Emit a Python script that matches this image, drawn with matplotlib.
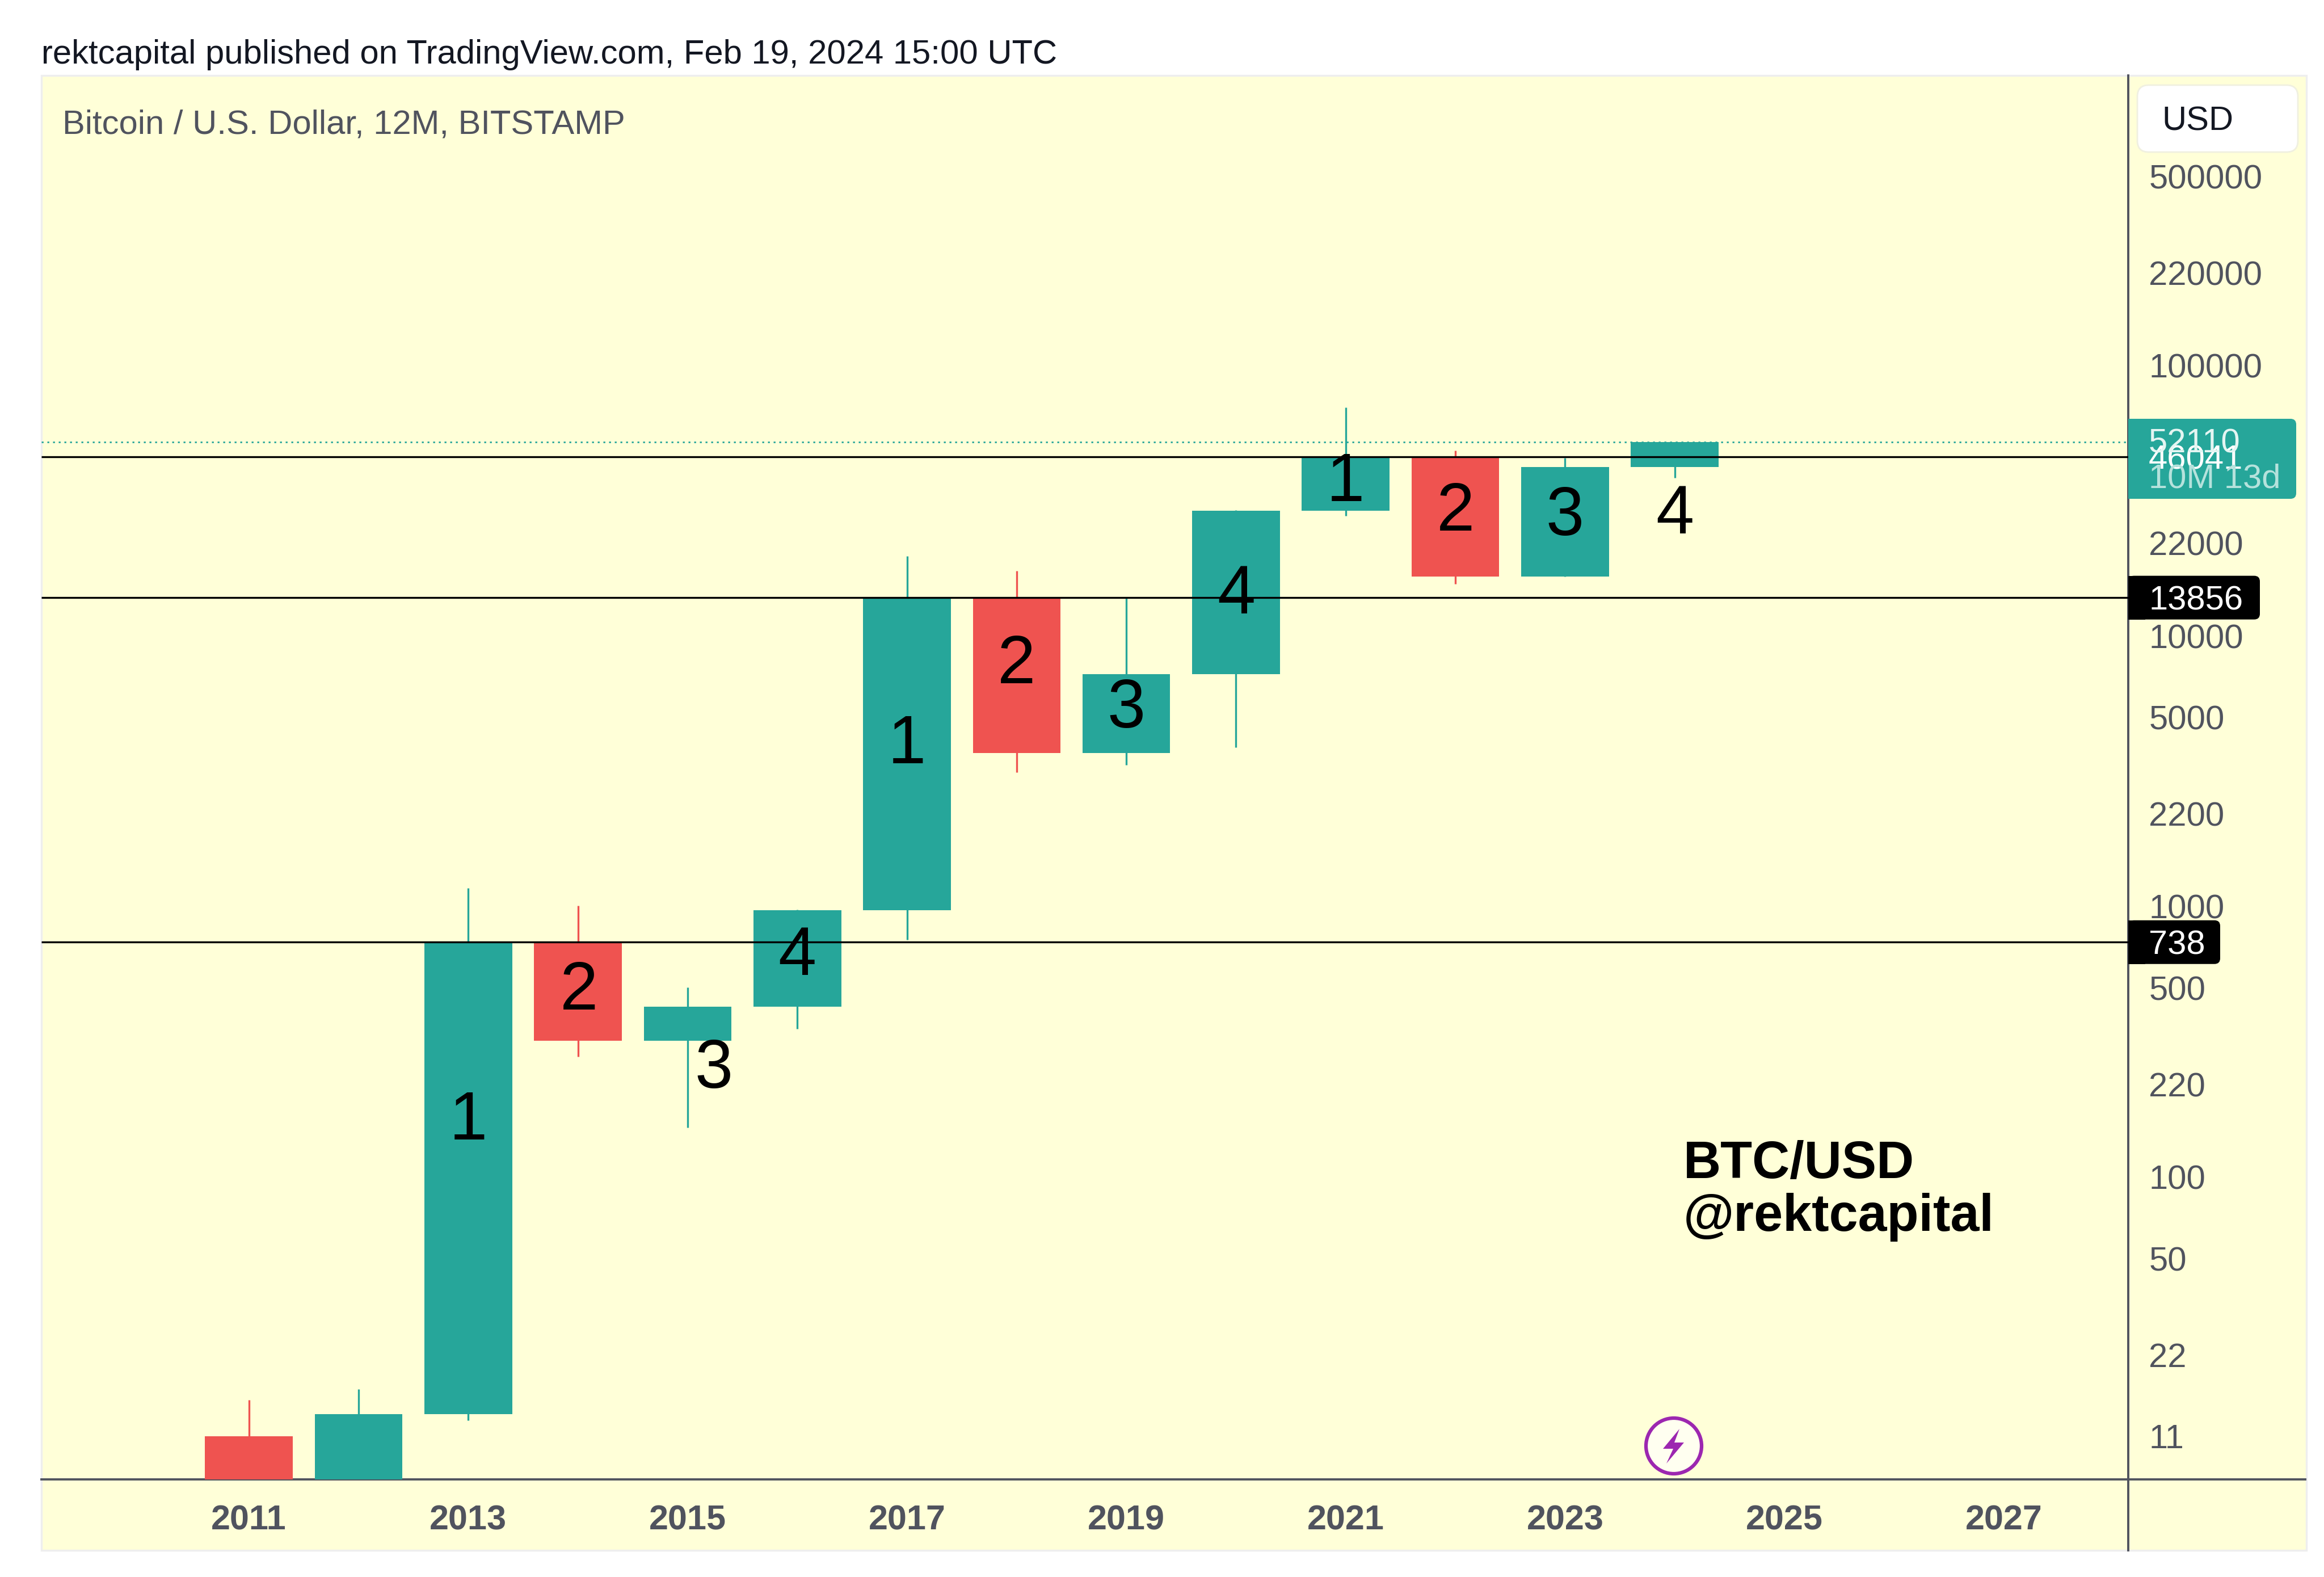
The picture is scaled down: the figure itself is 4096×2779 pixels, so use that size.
import matplotlib
matplotlib.use('Agg')
import matplotlib.pyplot as plt
from matplotlib.lines import Line2D
from matplotlib.patches import Circle, FancyBboxPatch, Polygon, Rectangle
from matplotlib.ticker import FixedLocator, NullLocator
from matplotlib.transforms import IdentityTransform

plt.rcParams['font.family'] = ['Liberation Sans', 'DejaVu Sans']

# yearly candles
years = [2011, 2012, 2013, 2014, 2015, 2016, 2017, 2018, 2019, 2020, 2021, 2022, 2023, 2024]
opens = [11, 4.7, 13.3, 738, 319, 427, 968, 13856, 3690, 7210, 29000, 46041, 16560, 42170]
closes = [4.7, 13.3, 738, 319, 427, 968, 13856, 3690, 7210, 29000, 46041, 16560, 42170, 52110]
highs = [15, 16.4, 1170, 1007, 502, 975, 19760, 17400, 13880, 29200, 69800, 48400, 45500, 52110]
lows = [2, 4, 12.6, 278, 152, 353, 753, 3135, 3335, 3880, 27800, 15560, 16560, 38500]

levels = [46041, 13856, 738]
last_price = 52110

count_labels = ['1', '2', '3', '4', '1', '2', '3', '4', '1', '2', '3', '4']
count_x = [2013, 2014.01, 2015.24, 2016, 2017, 2018, 2019, 2020, 2021, 2022, 2023, 2024]
count_y = [160, 484, 248, 648, 3934, 7766, 5322, 14060, 36680, 28500, 27400, 27790]

price_ticks = [500000, 220000, 100000, 50000, 22000, 10000, 5000, 2200, 1000, 500, 220, 100, 50, 22, 11]
year_ticks = [2011, 2013, 2015, 2017, 2019, 2021, 2023, 2025, 2027]

# colours
fondo = '#FFFFD8'
verde = '#26A69A'
rojo = '#EF5350'
gris = '#50535E'

W, H = 4096, 2779
fig = plt.figure(figsize=(W / 100, H / 100), dpi=100, facecolor='white')
pix = IdentityTransform()

# pixel positions of the panel, measured from the top
left, right, top, bottom, panel_r, panel_b = 73, 3751, 133, 2607, 4065, 2732

fig.add_artist(Rectangle((left, H - panel_b), panel_r - left, panel_b - top, transform=pix,
                         facecolor=fondo, edgecolor='#EEEEEE', linewidth=2.5, zorder=-1))

ax = fig.add_axes([left / W, 1 - bottom / H, (right - left) / W, (bottom - top) / H])
ax.patch.set_alpha(0)
ax.set_yscale('log')
ax.set_xlim(2009.108, 2028.135)
ax.set_ylim(7.62, 1.18e6)

for s in ['top', 'left']:
    ax.spines[s].set_visible(False)
for s in ['bottom', 'right']:
    ax.spines[s].set_color(gris)
    ax.spines[s].set_linewidth(2.8)

# wicks and bodies
colores = [verde if c >= o else rojo for o, c in zip(opens, closes)]
ax.vlines(years, lows, highs, colors=colores, linewidth=2.4, zorder=2)
cuerpo_inf = [min(o, c) for o, c in zip(opens, closes)]
cuerpo_alto = [abs(c - o) for o, c in zip(opens, closes)]
ax.bar(years, cuerpo_alto, bottom=cuerpo_inf, width=0.8, color=colores, linewidth=0, zorder=3)

ax.hlines(levels, 2009.108, 2028.135, colors='black', linewidth=2.4, zorder=4)
ax.hlines(last_price, 2009.108, 2028.135, colors=verde, linewidth=2, linestyles=(0, (1.2, 2.4)), zorder=1)

for t, xx, yy in zip(count_labels, count_x, count_y):
    ax.text(xx, yy, t, fontsize=87, color='black', ha='center', va='center', zorder=6)

ax.yaxis.tick_right()
ax.yaxis.set_major_locator(FixedLocator(price_ticks))
ax.yaxis.set_minor_locator(NullLocator())
ax.set_yticklabels([str(p) for p in price_ticks])
ax.tick_params(axis='y', length=0, pad=26, labelsize=43, labelcolor=gris)
ax.set_xticks(year_ticks)
ax.set_xticklabels([str(y) for y in year_ticks], fontweight='bold')
ax.tick_params(axis='x', length=0, pad=32, labelsize=44, labelcolor=gris)

# pieces of the axis lines that run past the plot area
fig.add_artist(Line2D([right, right], [H - bottom, H - panel_b], transform=pix, color=gris, linewidth=2.8, zorder=1))
fig.add_artist(Line2D([right, panel_r - 2], [H - bottom, H - bottom], transform=pix, color=gris, linewidth=2.8, zorder=1))


def etiqueta(valor, ancho, alto, color):
    # price tag on the right axis, centred on a value
    yc = ax.transData.transform((2020, valor))[1]
    fig.add_artist(FancyBboxPatch((right, yc - alto / 2), ancho, alto, transform=pix,
                                  boxstyle='round,pad=0,rounding_size=10', facecolor=color,
                                  edgecolor='none', zorder=2))
    fig.add_artist(Rectangle((right, yc - alto / 2), 30, alto, transform=pix, facecolor=color,
                             edgecolor='none', zorder=2))
    return yc


yc = etiqueta(46041, 232, 77, 'black')
fig.text(3787 / W, yc / H, '46041', color='white', fontsize=43, va='center_baseline', zorder=3)
yc = etiqueta(13856, 232, 77, 'black')
fig.text(3787 / W, yc / H, '13856', color='white', fontsize=43, va='center_baseline', zorder=3)
yc = etiqueta(738, 162, 77, 'black')
fig.text(3787 / W, yc / H, '738', color='white', fontsize=43, va='center_baseline', zorder=3)

fig.add_artist(FancyBboxPatch((right, H - 879), 296, 141, transform=pix, boxstyle='round,pad=0,rounding_size=10',
                              facecolor=verde, edgecolor='none', zorder=2))
fig.add_artist(Rectangle((right, H - 879), 30, 141, transform=pix, facecolor=verde, edgecolor='none', zorder=2))
fig.text(3787 / W, 1 - 776 / H, '52110', color='#E4F5F2', fontsize=43, va='center_baseline', zorder=3)
fig.text(3787 / W, 1 - 838 / H, '10M 13d', color='#B5E2DC', fontsize=43, va='center_baseline', zorder=3)

# USD button
fig.add_artist(FancyBboxPatch((3767, H - 268), 283, 118, transform=pix, boxstyle='round,pad=0,rounding_size=20',
                              facecolor='white', edgecolor='#F0F0E0', linewidth=2, zorder=2))
fig.text(3810 / W, 1 - 208 / H, 'USD', color='#131722', fontsize=43, va='center_baseline', zorder=3)

# header and legend
fig.text(73 / W, 1 - 91 / H, 'rektcapital published on TradingView.com, Feb 19, 2024 15:00 UTC',
         color='#131722', fontsize=43, va='center_baseline', zorder=3)
fig.text(110 / W, 1 - 214 / H, 'Bitcoin / U.S. Dollar, 12M, BITSTAMP',
         color=gris, fontsize=43, va='center_baseline', zorder=3)

# watermark text
fig.text(2967 / W, 1 - 2043 / H, 'BTC/USD', color='black', fontsize=66, fontweight='bold', va='center_baseline', zorder=3)
fig.text(2967 / W, 1 - 2135 / H, '@rektcapital', color='black', fontsize=66, fontweight='bold', va='center_baseline', zorder=3)

# lightning mark
cx, cy = 2950, H - 2548
fig.add_artist(Circle((cx, cy), 49, transform=pix, facecolor='#FFFFF0', edgecolor='#9C27B0', linewidth=4.5, zorder=2))
rayo = [(10, 30), (-19, -5), (-1, -5), (-13, -31), (18, 6), (1, 6)]
fig.add_artist(Polygon([(cx + a, cy + b) for a, b in rayo], transform=pix, facecolor='#9C27B0', edgecolor='none', zorder=3))

plt.savefig('out.png', dpi=100)
